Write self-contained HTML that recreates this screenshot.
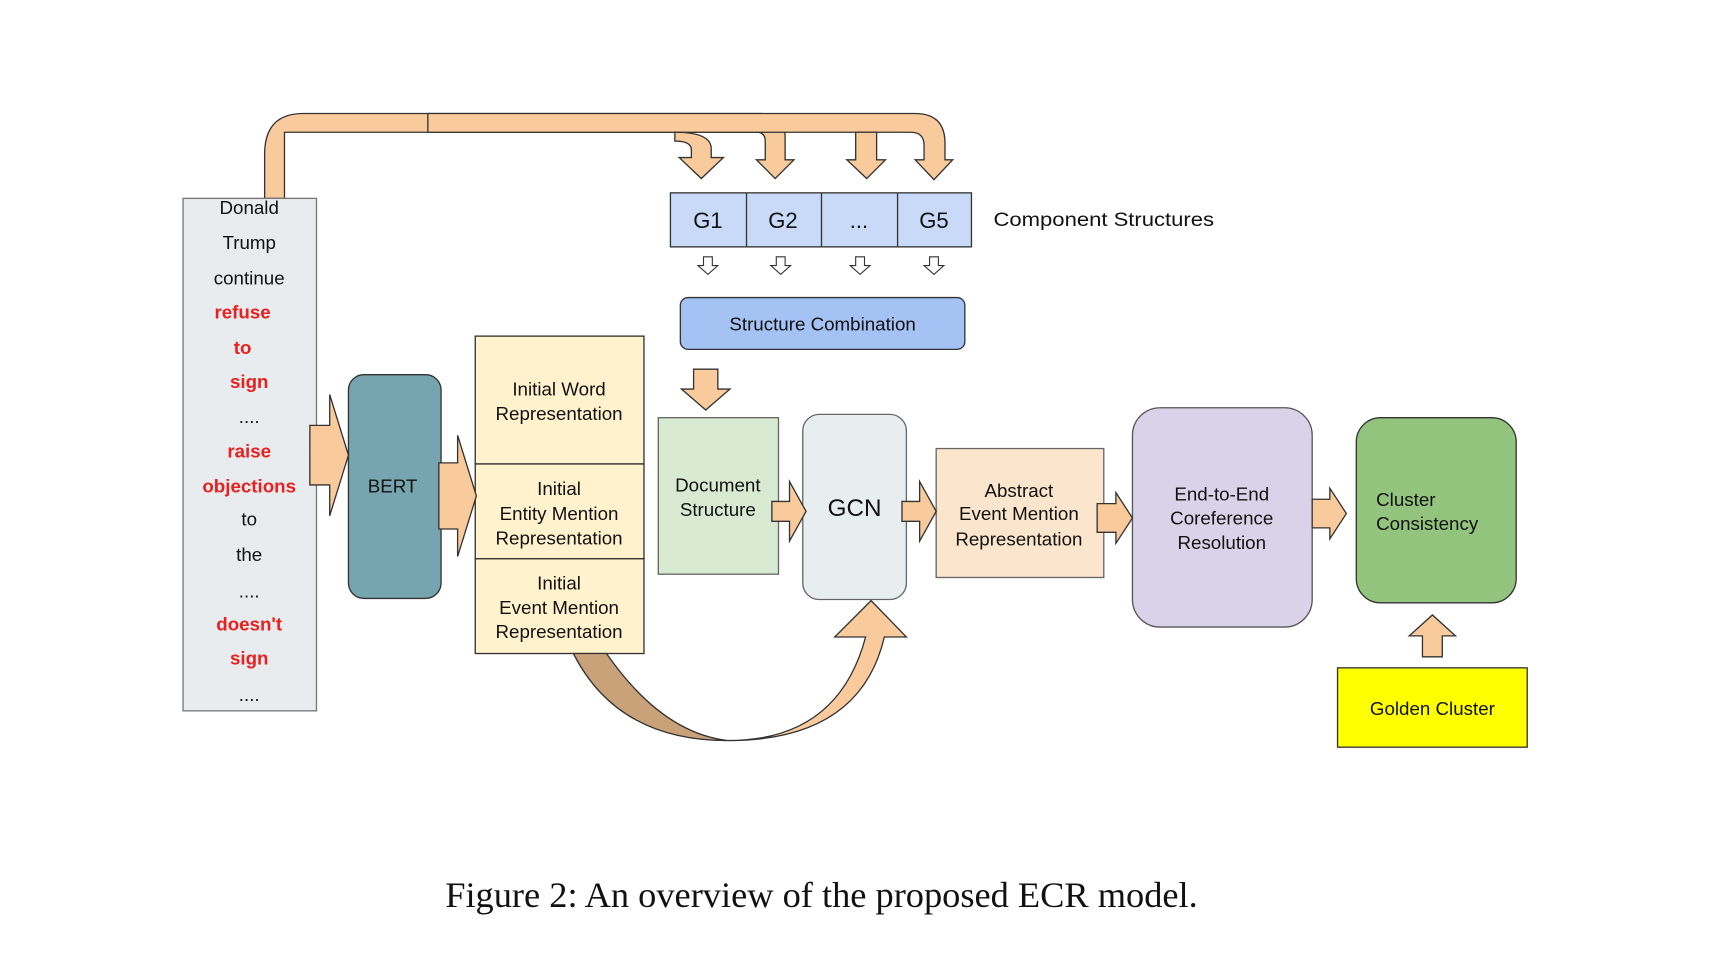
<!DOCTYPE html>
<html><head><meta charset="utf-8"><style>
html,body{margin:0;padding:0;background:#fff;}
svg{display:block;}
text{font-family:"Liberation Sans",Arial,sans-serif;}
</style></head><body>
<svg width="1729" height="961" viewBox="0 0 1568 872" preserveAspectRatio="none" xmlns="http://www.w3.org/2000/svg">
<g stroke="#333" stroke-width="1.2">
<path d="M240,180 V140 Q240,103 275,103 H690 Q712,103 712,125 V145 H720 L703,162 L686,145 H694 V128 Q694,120 686,120 H258 Q258,120 258,140 V180 Z" fill="#f9cb9c"/>
<path d="M388,103 H830 Q857,103 857,130 V145 H864 L847,163 L830,145 H838 V132 Q838,120 826,120 H388 Z" fill="#f9cb9c"/>
<path d="M612,120 Q645,120 645,135 V143 H656 L636,162 L616,143 H627 V136 Q627,128 612,128 Z" fill="#f9cb9c"/>
<path d="M776,120 H795 V145 H803 L786,162 L768,145 H776 Z" fill="#f9cb9c"/>
<rect x="166" y="180" width="121" height="465" fill="#e8ecee" stroke="#777"/>
<rect x="608" y="175" width="273" height="49" fill="#c9daf8"/>
<line x1="677" y1="175" x2="677" y2="224"/><line x1="745" y1="175" x2="745" y2="224"/><line x1="814" y1="175" x2="814" y2="224"/>
<g fill="#fff" stroke-width="1">
<path d="M638,233 h8 v8 h5 l-9,8 l-9,-8 h5 z"/>
<path d="M704,233 h8 v8 h5 l-9,8 l-9,-8 h5 z"/>
<path d="M776,233 h8 v8 h5 l-9,8 l-9,-8 h5 z"/>
<path d="M843,233 h8 v8 h5 l-9,8 l-9,-8 h5 z"/>
</g>
<rect x="617" y="270" width="258" height="47" rx="7" fill="#a4c2f4"/>
<path d="M629,335 h22 v18 h11 l-22,19 l-22,-19 h11 z" fill="#f9cb9c"/>
<rect x="597" y="379" width="109" height="142" fill="#d9ead3" stroke="#666"/>
<rect x="728" y="376" width="94" height="168" rx="15" fill="#e8eef0" stroke="#666"/>
<rect x="849" y="407" width="152" height="117" fill="#fce5cd" stroke="#666"/>
<rect x="1027" y="370" width="163" height="199" rx="25" fill="#d9d2e9" stroke="#555"/>
<rect x="1230" y="379" width="145" height="168" rx="22" fill="#93c47d"/>
<rect x="1213" y="606" width="172" height="72" fill="#ffff00"/>
<path d="M1290,596 v-19 h-12 l21,-19 l21,19 h-12 v19 z" fill="#f9cb9c"/>
<rect x="316" y="340" width="84" height="203" rx="14" fill="#76a5af"/>
<rect x="431" y="305" width="153" height="116" fill="#fff2cc"/>
<rect x="431" y="421" width="153" height="86" fill="#fff2cc"/>
<rect x="431" y="507" width="153" height="86" fill="#fff2cc"/>
<path d="M281,386 h18 v-28 l17,55 l-17,55 v-28 h-18 z" fill="#f9cb9c"/>
<path d="M398,420 h17 v-25 l17,55 l-17,55 v-25 h-17 z" fill="#f9cb9c"/>
<path d="M700,455 h16 v-18 l15,27 l-15,27 v-18 h-16 z" fill="#f9cb9c"/>
<path d="M818,455 h16 v-18 l15,27 l-15,27 v-18 h-16 z" fill="#f9cb9c"/>
<path d="M995,457 h17 v-10 l15,23 l-15,23 v-10 h-17 z" fill="#f9cb9c"/>
<path d="M1190,453 h16 v-10 l15,23 l-15,23 v-10 h-16 z" fill="#f9cb9c"/>
<path d="M520,593 Q560,672 660,672 Q600,665 550,593 Z" fill="#c9a27a"/>
<path d="M660,672 Q760,672 785,578 H757 L790,545 L822,578 H802 Q780,672 660,672 Z" fill="#f9cb9c"/>
</g>
<g font-size="17" text-anchor="middle" fill="#111">
<text x="226" y="194">Donald</text><text x="226" y="226">Trump</text><text x="226" y="258">continue</text>
<g fill="#e82020" font-weight="bold"><text x="220" y="289">refuse</text><text x="220" y="321">to</text><text x="226" y="352">sign</text>
<text x="226" y="415">raise</text><text x="226" y="447">objections</text><text x="226" y="572">doesn't</text><text x="226" y="603">sign</text></g>
<text x="226" y="384">....</text><text x="226" y="477">to</text><text x="226" y="509">the</text><text x="226" y="542">....</text><text x="226" y="636">....</text>
<g font-size="20"><text x="642" y="207">G1</text><text x="710" y="207">G2</text><text x="779" y="207">...</text><text x="847" y="207">G5</text></g>
<text x="901" y="205" font-size="18" text-anchor="start" textLength="200" lengthAdjust="spacingAndGlyphs">Component Structures</text>
<text x="746" y="300">Structure Combination</text>
<text x="651" y="446">Document</text><text x="651" y="468">Structure</text>
<text x="775" y="468" font-size="22">GCN</text>
<text x="924" y="451">Abstract</text><text x="924" y="472">Event Mention</text><text x="924" y="495">Representation</text>
<text x="1108" y="454">End-to-End</text><text x="1108" y="476">Coreference</text><text x="1108" y="498">Resolution</text>
<text x="1299" y="649">Golden Cluster</text>
<text x="356" y="447">BERT</text>
<text x="507" y="359">Initial Word</text><text x="507" y="381">Representation</text>
<text x="507" y="449">Initial</text><text x="507" y="472">Entity Mention</text><text x="507" y="494">Representation</text>
<text x="507" y="535">Initial</text><text x="507" y="557">Event Mention</text><text x="507" y="579">Representation</text>
<g text-anchor="start"><text x="1248" y="459">Cluster</text><text x="1248" y="481">Consistency</text></g>
</g>
<text x="745" y="823" font-size="33" text-anchor="middle" fill="#111" style="font-family:'Liberation Serif',serif">Figure 2:  An overview of the proposed ECR model.</text>
</svg>
</body></html>
